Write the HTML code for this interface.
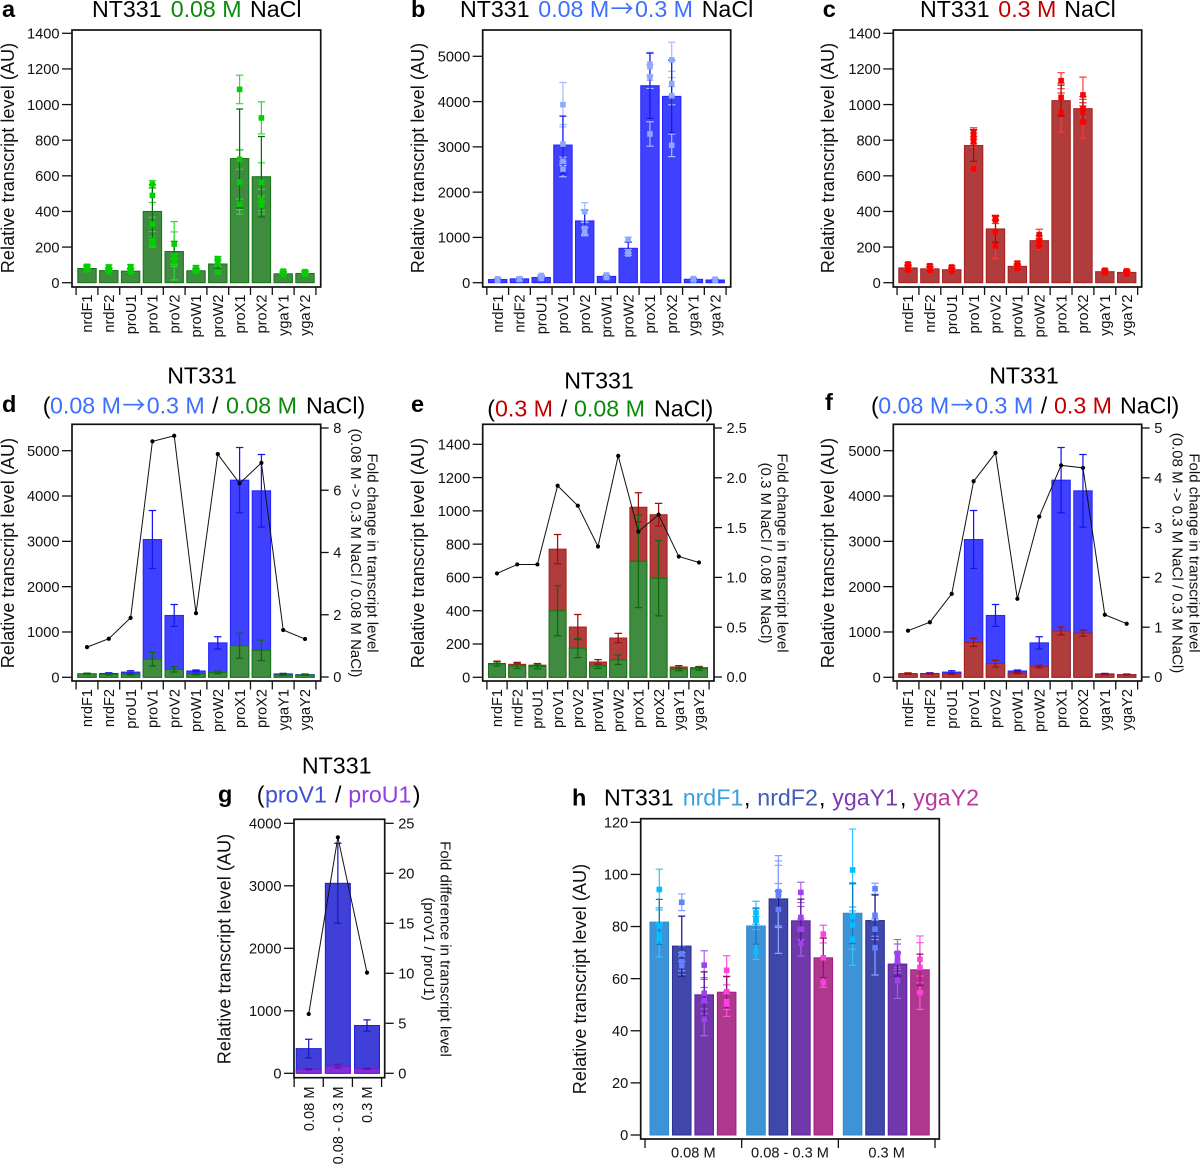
<!DOCTYPE html>
<html lang="en">
<head>
<meta charset="utf-8">
<title>NT331 transcript levels</title>
<style>
html,body{margin:0;padding:0;background:#fff;}
svg{display:block;font-family:"Liberation Sans",sans-serif;}
.title{font-size:23.2px;fill:#000;}
.letter{font-size:23.5px;font-weight:bold;fill:#000;}
.ytitle{font-size:18.2px;fill:#111;text-anchor:middle;}
.rtitle{font-size:15px;fill:#111;text-anchor:middle;}
.tick{font-size:14.6px;fill:#111;}
.g{fill:#0a8a0a}.b{fill:#3d6fff}.r{fill:#c00000}
.arrow{font-family:"Noto Sans CJK SC","Liberation Sans",sans-serif;}
</style>
</head>
<body>
<svg id="chart" width="1200" height="1164" viewBox="0 0 1200 1164" xmlns="http://www.w3.org/2000/svg">
<rect x="0" y="0" width="1200" height="1164" fill="#fff"/>

<text class="letter" x="2" y="17">a</text>
<text class="title" y="17"><tspan x="92">NT331</tspan><tspan x="170.7" class="g">0.08 M</tspan><tspan x="250">NaCl</tspan></text>
<text class="letter" x="411" y="17">b</text>
<text class="title" y="17"><tspan x="460">NT331</tspan><tspan x="538.3" class="b">0.08 M</tspan><tspan x="610.5" class="b arrow">→</tspan><tspan x="635" class="b">0.3 M</tspan><tspan x="701.7">NaCl</tspan></text>
<text class="letter" x="822.7" y="17">c</text>
<text class="title" y="17"><tspan x="920">NT331</tspan><tspan x="998.3" class="r">0.3 M</tspan><tspan x="1064.3">NaCl</tspan></text>

<text class="letter" x="2" y="412">d</text>
<text class="title" x="202" y="383.3" text-anchor="middle">NT331</text>
<text class="title" y="413.3"><tspan x="42.7">(</tspan><tspan x="50" class="b">0.08 M</tspan><tspan x="122.3" class="b arrow">→</tspan><tspan x="146.7" class="b">0.3 M</tspan><tspan x="212">/</tspan><tspan x="226" class="g">0.08 M</tspan><tspan x="306">NaCl)</tspan></text>
<text class="letter" x="411" y="412">e</text>
<text class="title" x="599" y="388.3" text-anchor="middle">NT331</text>
<text class="title" y="416.7"><tspan x="487.3">(</tspan><tspan x="495" class="r">0.3 M</tspan><tspan x="560.7">/</tspan><tspan x="574" class="g">0.08 M</tspan><tspan x="654">NaCl)</tspan></text>
<text class="letter" x="825" y="410">f</text>
<text class="title" x="1024" y="383.3" text-anchor="middle">NT331</text>
<text class="title" y="413.3"><tspan x="871">(</tspan><tspan x="878.3" class="b">0.08 M</tspan><tspan x="950.6" class="b arrow">→</tspan><tspan x="975.2" class="b">0.3 M</tspan><tspan x="1040.7">/</tspan><tspan x="1054" class="r">0.3 M</tspan><tspan x="1120">NaCl)</tspan></text>

<text class="letter" x="218" y="802">g</text>
<text class="title" x="336.7" y="773.3" text-anchor="middle">NT331</text>
<text class="title" y="802.7"><tspan x="256.7">(</tspan><tspan x="265" fill="#3f4fd8">proV1</tspan><tspan x="335">/</tspan><tspan x="348.3" fill="#9040e0">proU1</tspan><tspan x="412.7">)</tspan></text>
<text class="letter" x="572" y="805.7">h</text>
<text class="title" y="805.7"><tspan x="604">NT331</tspan><tspan x="682.7" fill="#3ca0dc">nrdF1</tspan><tspan x="744">,</tspan><tspan x="757.3" fill="#3f5cb8">nrdF2</tspan><tspan x="819">,</tspan><tspan x="832.3" fill="#7a3cb0">ygaY1</tspan><tspan x="900">,</tspan><tspan x="913.3" fill="#b8389c">ygaY2</tspan></text>

<text class="ytitle" transform="translate(14,158) rotate(-90)">Relative transcript level (AU)</text>
<text class="ytitle" transform="translate(424,158) rotate(-90)">Relative transcript level (AU)</text>
<text class="ytitle" transform="translate(834,158) rotate(-90)">Relative transcript level (AU)</text>
<text class="ytitle" transform="translate(14,553) rotate(-90)">Relative transcript level (AU)</text>
<text class="ytitle" transform="translate(424,553) rotate(-90)">Relative transcript level (AU)</text>
<text class="ytitle" transform="translate(834,553) rotate(-90)">Relative transcript level (AU)</text>
<text class="ytitle" transform="translate(230.7,949) rotate(-90)">Relative transcript level (AU)</text>
<text class="ytitle" transform="translate(586,979) rotate(-90)">Relative transcript level (AU)</text>

<text class="rtitle" transform="translate(367.7,553) rotate(90)">Fold change in transcript level</text>
<text class="rtitle" transform="translate(351,553) rotate(90)">(0.08 M -&gt; 0.3 M NaCl / 0.08 M NaCl)</text>
<text class="rtitle" transform="translate(777.7,553) rotate(90)">Fold change in transcript level</text>
<text class="rtitle" transform="translate(761,553) rotate(90)">(0.3 M NaCl / 0.08 M NaCl)</text>
<text class="rtitle" transform="translate(1189.3,553) rotate(90)">Fold change in transcript level</text>
<text class="rtitle" transform="translate(1172.3,553) rotate(90)">(0.08 M -&gt; 0.3 M NaCl / 0.3 M NaCl)</text>
<text class="rtitle" transform="translate(440.7,949) rotate(90)">Fold difference in transcript level</text>
<text class="rtitle" transform="translate(424,949) rotate(90)">(proV1 / proU1)</text>
</svg>

<script>
// ---------- data ----------
const genes = ['nrdF1','nrdF2','proU1','proV1','proV2','proW1','proW2','proX1','proX2','ygaY1','ygaY2'];

const meanLow   = [80,68,65,400,175,67,105,697,595,50,52];
const errLow    = [12,14,14,150,57,14,28,278,226,10,10];
const meanShift = [70,85,115,3040,1365,140,760,4350,4115,75,60];
const errShift  = [15,15,30,640,240,20,135,720,800,12,12];
const meanHigh  = [83,78,73,770,302,92,236,1022,977,62,58];
const errHigh   = [14,12,10,88,75,14,28,87,68,8,7];

// [value, own error] for each replicate of each gene
const pointsLow = [
  [[92,10],[82,12],[72,10]],
  [[88,12],[72,12],[62,8]],
  [[90,10],[70,12],[60,8]],
  [[554,20],[490,40],[327,40],[236,20],[221,20]],
  [[217,126],[150,135],[137,25],[118,15]],
  [[85,10],[70,10],[62,8]],
  [[135,12],[108,15],[60,10]],
  [[1085,80],[692,55],[565,180],[440,30]],
  [[925,90],[563,110],[464,60],[436,50]],
  [[65,8],[55,8],[45,6]],
  [[62,7],[55,7],[47,6]]
];
const pointsShift = [
  [[85,15],[70,12],[55,10]],
  [[90,12],[80,12],[70,10]],
  [[160,25],[125,20],[95,15]],
  [[3932,490],[3063,430],[2680,90],[2510,170]],
  [[1568,200],[1200,130],[1127,90]],
  [[170,15],[145,15],[115,12]],
  [[957,50],[685,50],[633,30]],
  [[4830,260],[4770,300],[4550,260],[3285,270]],
  [[4920,390],[4400,270],[4130,200],[3034,250]],
  [[90,10],[75,10],[60,8]],
  [[75,10],[60,8],[48,6]]
];
const pointsHigh = [
  [[105,8],[92,8],[80,8],[72,6]],
  [[95,8],[82,8],[70,6]],
  [[88,8],[75,8],[65,6]],
  [[838,32],[820,40],[800,40],[790,30],[640,10]],
  [[363,15],[352,20],[284,70],[206,70]],
  [[110,10],[95,10],[85,8],[80,6]],
  [[270,30],[235,15],[220,20],[205,15]],
  [[1134,45],[1040,80],[955,110]],
  [[1054,100],[979,50],[960,50],[902,90]],
  [[70,6],[62,6],[55,5]],
  [[66,6],[58,6],[50,5]]
];

const foldD = [0.96,1.23,1.9,7.57,7.75,2.05,7.16,6.22,6.88,1.51,1.22];
const foldE = [1.04,1.13,1.13,1.92,1.72,1.31,2.22,1.46,1.63,1.21,1.15];
const foldF = [0.93,1.1,1.67,3.93,4.5,1.57,3.22,4.25,4.2,1.25,1.07];

const conditionsG = ['0.08 M','0.08 - 0.3 M','0.3 M'];
const meanProV1 = [395,3040,765];
const errProV1  = [150,640,90];
const meanProU1 = [65,115,73];
const errProU1  = [10,30,8];
const foldG     = [5.93,23.6,10.07];

const conditionsH = ['0.08 M','0.08 - 0.3 M','0.3 M'];
const meanH = [[81.7,72.5,53.8,54.8],[80.2,90.6,82.2,68],[85.1,82.3,65.6,63.4]];
const errH  = [[8.7,11.5,8.8,6],[6.9,3,8.3,7.6],[11.6,9.8,4.6,6]];
const pointsH = [
  [
    [[94.2,7.8],[80.2,7],[76.8,4],[75,6.7]],
    [[89.3,3.2],[69.6,3],[66.5,3.5],[65,3.6]],
    [[65.2,5.5],[54.4,6],[51.6,5],[44.4,6.3]],
    [[63.2,5.6],[55,6],[51.2,3],[50.3,4.8]]
  ],
  [
    [[85.3,4.4],[82.8,4],[82.4,1.5],[70.4,3]],
    [[93.4,13.8],[92.7,12.5],[92,4.5],[86.6,16.9]],
    [[93.1,3.9],[83.5,4.2],[79,4],[73.6,4.9]],
    [[77.1,3.4],[68,7.6],[58.5,1.8]]
  ],
  [
    [[101.7,15.7],[83.8,12.5],[80.6,6.9],[75.1,10]],
    [[94.5,2.1],[84.3,8],[79,4],[71.9,10.5]],
    [[69.7,5.3],[67.8,5.5],[66.5,3],[59.2,6.8]],
    [[67.4,9],[64.3,9.5],[54.6,6.4]]
  ]
];

const ticksAu1400 = [0,200,400,600,800,1000,1200,1400];
const ticksAu5000 = [0,1000,2000,3000,4000,5000];
const ticksAu4000 = [0,1000,2000,3000,4000];
const ticksAu120  = [0,20,40,60,80,100,120];
const ticksFoldD  = ['0','2','4','6','8'];
const ticksFoldE  = ['0.0','0.5','1.0','1.5','2.0','2.5'];
const ticksFoldF  = ['0','1','2','3','4','5'];
const ticksFoldG  = ['0','5','10','15','20','25'];

// ---------- colour styles ----------
const green = {fill:'#3f8b3f',edge:'#137513',err:'#0b6b0b',pt:'#00d000',pale:'#35d835'};
const blue  = {fill:'#4040ff',edge:'#2222ff',err:'#1616f0',pt:'#8ca8ff',pale:'#a6baff'};
const red   = {fill:'#b03c3c',edge:'#a82020',err:'#9c0f0f',pt:'#ff0000',pale:'#ff3838'};
const navy  = {fill:'#4040d8',edge:'#1d1dd8',err:'#1818c0'};
const violet= {fill:'#8030d8',edge:'#7018c8',err:'#6010b0'};
const hStyles = [
  {fill:'#3d93d6',edge:'#2f8ad0',err:'#0a7cc0',pt:'#00c0ff',pale:'#30c4ff'},
  {fill:'#3f47a8',edge:'#2a2f98',err:'#14148c',pt:'#6080ff',pale:'#88a0ff'},
  {fill:'#7038a8',edge:'#6020a0',err:'#4c0c90',pt:'#a040f0',pale:'#a860e0'},
  {fill:'#ae388c',edge:'#a52080',err:'#8c0c6c',pt:'#ff40e0',pale:'#ff50e0'}
];

// ---------- helpers ----------
const NS = 'http://www.w3.org/2000/svg';
const root = document.getElementById('chart');
function make(tag, attrs, parent) {
  const el = document.createElementNS(NS, tag);
  for (const k in attrs) el.setAttribute(k, attrs[k]);
  parent.appendChild(el);
  return el;
}
function linear(v0, p0, v1, p1) {
  return v => p0 + (v - v0) * (p1 - p0) / (v1 - v0);
}
function band(first, step) {
  return i => first + i * step;
}
function panelGroup(label) {
  const g = make('g', {}, root);
  
  
  return g;
}

function drawBars(g, means, x, y, w, style) {
  means.forEach((m, i) => {
    const rect = make('rect', {x:x(i)-w/2+0.5, y:y(m), width:w-1, height:Math.max(0.5,y(0)-y(m)),
      fill:style.fill, stroke:style.edge, 'stroke-width':1}, g);
    
    
  });
}
function drawError(g, cx, hi, lo, color, capHalf, width) {
  const line = make('path', {
    d:`M${cx} ${hi}V${lo}M${cx-capHalf} ${hi}H${cx+capHalf}M${cx-capHalf} ${lo}H${cx+capHalf}`,
    fill:'none', stroke:color, 'stroke-width':width}, g);
  
  
}
function drawErrors(g, means, errs, x, y, color, capHalf) {
  means.forEach((m, i) => {
    drawError(g, x(i), y(m + errs[i]), y(m - errs[i]), color, capHalf, 1.25);
  });
}
function drawReplicates(g, pts, cx, y, style) {
  pts.forEach(p => {
    drawError(g, cx, y(p[0]+p[1]), y(p[0]-p[1]), style.pale, 3.7, 1.2);
  });
}
function drawPoints(g, pts, cx, y, style) {
  pts.forEach(p => {
    const dot = make('rect', {x:cx-2.8, y:y(p[0])-2.8, width:5.6, height:5.6, fill:style.pt}, g);
    
    
  });
}
function drawFold(g, fold, x, y) {
  const pts = fold.map((v, i) => x(i) + ',' + y(v)).join(' ');
  const line = make('polyline', {points:pts, fill:'none', stroke:'#111', 'stroke-width':1}, g);
  
  
  fold.forEach((v, i) => {
    const dot = make('circle', {cx:x(i), cy:y(v), r:2.1, fill:'#000'}, g);
    
    
  });
}
function drawFrame(g, box) {
  const frame = make('rect', {x:box.x0, y:box.top, width:box.x1-box.x0, height:box.bottom-box.top,
    fill:'none', stroke:'#111', 'stroke-width':1.7}, g);
  
  
}
function drawLeftAxis(g, box, ticks, y) {
  ticks.forEach(v => {
    const tick = make('line', {x1:box.x0-10, x2:box.x0, y1:y(v), y2:y(v), stroke:'#111', 'stroke-width':1.3}, g);
    
    
    const label = make('text', {x:box.x0-12.5, y:y(v)+5.2, 'text-anchor':'end', class:'tick'}, g);
    label.textContent = String(v);
    
    
  });
}
function drawRightAxis(g, box, ticks, y) {
  ticks.forEach(t => {
    const v = parseFloat(t);
    const tick = make('line', {x1:box.x1, x2:box.x1+8, y1:y(v), y2:y(v), stroke:'#111', 'stroke-width':1.3}, g);
    
    
    const label = make('text', {x:box.x1+12.5, y:y(v)+5.2, class:'tick'}, g);
    label.textContent = t;
    
    
  });
}
function drawBottomAxis(g, box, cats, x, step, tickEnd) {
  for (let i = 0; i <= cats.length; i++) {
    const px = x(i) - step/2;
    const tick = make('line', {x1:px, x2:px, y1:box.bottom, y2:tickEnd, stroke:'#111', 'stroke-width':1.3}, g);
    
    
  }
  cats.forEach((c, i) => {
    const label = make('text', {transform:`translate(${x(i)+5.2},${tickEnd-0.5}) rotate(-90)`, 'text-anchor':'end', class:'tick'}, g);
    label.textContent = c;
    
    
  });
}

function singlePanel(label, box, means, errs, points, style, ticks, topVal, topPx, first, step, w) {
  const g = panelGroup(label);
  const x = band(first, step);
  const y = linear(0, 282.7, topVal, topPx);
  drawBars(g, means, x, y, w, style);
  points.forEach((pts, i) => drawReplicates(g, pts, x(i), y, style));
  drawErrors(g, means, errs, x, y, style.err, 3.5);
  points.forEach((pts, i) => drawPoints(g, pts, x(i), y, style));
  drawFrame(g, box);
  drawLeftAxis(g, box, ticks, y);
  drawBottomAxis(g, box, genes, x, step, 295);
}

function overlayPanel(label, box, back, backErr, backStyle, front, frontErr, frontStyle, fold, ticks, topVal, topPx, foldTicks, foldTop, first, step, w) {
  const g = panelGroup(label);
  const x = band(first, step);
  const y = linear(0, 677.3, topVal, topPx);
  const yr = linear(0, 677, foldTop, 428);
  drawBars(g, back, x, y, w, backStyle);
  drawErrors(g, back, backErr, x, y, backStyle.err, 3.7);
  drawBars(g, front, x, y, w, frontStyle);
  drawErrors(g, front, frontErr, x, y, frontStyle.err, 3.7);
  drawFold(g, fold, x, yr);
  drawFrame(g, box);
  drawLeftAxis(g, box, ticks, y);
  drawRightAxis(g, box, foldTicks, yr);
  drawBottomAxis(g, box, genes, x, step, 689.5);
}

// ---------- top row ----------
singlePanel('a', {x0:72,x1:320.7,top:30,bottom:287}, meanLow, errLow, pointsLow, green, ticksAu1400, 1400, 33.3, 87, 21.8, 19.4);
singlePanel('b', {x0:482.7,x1:730.7,top:30,bottom:287}, meanShift, errShift, pointsShift, blue, ticksAu5000, 5000, 56.3, 497.7, 21.75, 19.4);
singlePanel('c', {x0:893.3,x1:1141.7,top:30,bottom:287}, meanHigh, errHigh, pointsHigh, red, ticksAu1400, 1400, 33.3, 908, 21.87, 19.4);

// ---------- middle row ----------
overlayPanel('d', {x0:72,x1:320.7,top:424.3,bottom:681}, meanShift, errShift, blue, meanLow, errLow, green, foldD, ticksAu5000, 5000, 450.7, ticksFoldD, 8, 87, 21.8, 19.4);
overlayPanel('e', {x0:482.7,x1:714,top:424.3,bottom:681}, meanHigh, errHigh, red, meanLow, errLow, green, foldE, ticksAu1400, 1400, 444.3, ticksFoldE, 2.5, 497, 20.2, 18);
overlayPanel('f', {x0:893.3,x1:1141.7,top:424.3,bottom:681}, meanShift, errShift, blue, meanHigh, errHigh, red, foldF, ticksAu5000, 5000, 450.7, ticksFoldF, 5, 908, 21.87, 19.4);

// ---------- panel g ----------
(function () {
  const box = {x0:294,x1:384.7,top:819.3,bottom:1077.7};
  const g = panelGroup('g');
  const step = 29.15;
  const x = band(308.7, step);
  const y = linear(0, 1073.3, 4000, 823.3);
  const yr = linear(0, 1073.3, 25, 823.3);
  drawBars(g, meanProV1, x, y, 26, navy);
  drawErrors(g, meanProV1, errProV1, x, y, navy.err, 3.7);
  drawBars(g, meanProU1, x, y, 26, violet);
  drawErrors(g, meanProU1, errProU1, x, y, violet.err, 3.7);
  drawFold(g, foldG, x, yr);
  drawFrame(g, box);
  drawLeftAxis(g, box, ticksAu4000, y);
  drawRightAxis(g, {x0:box.x0,x1:box.x1+1,top:box.top,bottom:box.bottom}, ticksFoldG, yr);
  drawBottomAxis(g, box, conditionsG, x, step, 1087);
})();

// ---------- panel h ----------
(function () {
  const box = {x0:640.7,x1:939.3,top:818.7,bottom:1139};
  const g = panelGroup('h');
  const y = linear(0, 1135, 120, 822.3);
  const groupStart = band(659.3, 96.65);
  const inner = band(0, 22.45);
  const cx = (c, s) => groupStart(c) + inner(s);
  meanH.forEach((row, c) => {
    row.forEach((m, s) => {
      const style = hStyles[s];
      const px = () => cx(c, s);
      drawBars(g, [m], px, y, 19.6, style);
      drawReplicates(g, pointsH[c][s], px(), y, style);
      drawErrors(g, [m], [errH[c][s]], px, y, style.err, 3.5);
      drawPoints(g, pointsH[c][s], px(), y, style);
    });
  });
  drawFrame(g, box);
  drawLeftAxis(g, box, ticksAu120, y);
  const xt = band(645, 96.67);
  for (let i = 0; i <= conditionsH.length; i++) {
    const tick = make('line', {x1:xt(i), x2:xt(i), y1:box.bottom, y2:1148, stroke:'#111', 'stroke-width':1.3}, g);
    
    
  }
  conditionsH.forEach((c, i) => {
    const label = make('text', {x:xt(i)+48.3, y:1157.3, 'text-anchor':'middle', class:'tick'}, g);
    label.textContent = c;
    
    
  });
})();
</script>
</body>
</html>
